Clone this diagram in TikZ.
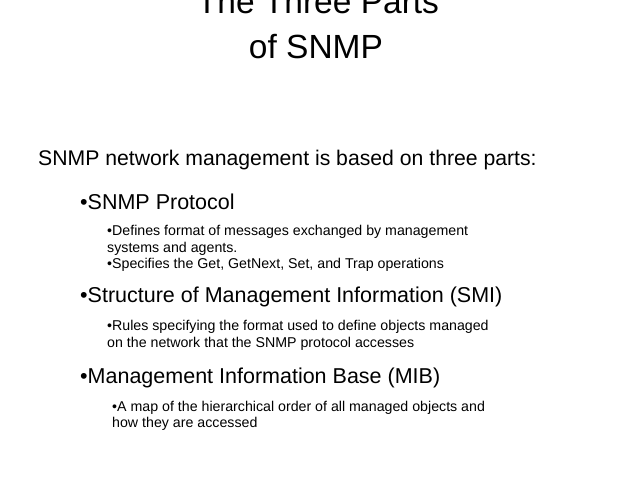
\documentclass[tikz,border=0pt]{standalone}
\usepackage{fontspec}
\setmainfont{Liberation Sans}
\begin{document}
\begin{tikzpicture}[x=1pt,y=-1pt,
  ttl/.style={anchor=base,font=\fontsize{33.5}{34}\selectfont},
  lvl0/.style={anchor=base west,inner sep=0,font=\fontsize{21.2}{21}\selectfont},
  lvl1/.style={anchor=base west,inner sep=0,font=\fontsize{21.5}{21}\selectfont},
  lvl2/.style={anchor=base west,inner sep=0,font=\fontsize{14.2}{14}\selectfont}]
\useasboundingbox[fill=white] (0,0) rectangle (638,478);
\clip (0,0) rectangle (638,478);
\node[ttl] (t1) at (318,14) {The Three Parts};
\node[ttl] (t2) at (316,59) {of SNMP};
\node[lvl0] (a) at (38,166) {SNMP network management is based on three parts:};
\node[lvl1] (b1) at (80,210) {\textbullet SNMP Protocol};
\node[lvl2] (b1a) at (107,236) {\textbullet Defines format of messages exchanged by management};
\node[lvl2] (b1b) at (107,253) {systems and agents.};
\node[lvl2] (b1c) at (107,269) {\textbullet Specifies the Get, GetNext, Set, and Trap operations};
\node[lvl1] (b2) at (80,303) {\textbullet Structure of Management Information (SMI)};
\node[lvl2] (b2a) at (107,331) {\textbullet Rules specifying the format used to define objects managed};
\node[lvl2] (b2b) at (107,348) {on the network that the SNMP protocol accesses};
\node[lvl1] (b3) at (80,384) {\textbullet Management Information Base (MIB)};
\node[lvl2] (b3a) at (112,412) {\textbullet A map of the hierarchical order of all managed objects and};
\node[lvl2] (b3b) at (112,428) {how they are accessed};
\end{tikzpicture}
\end{document}
